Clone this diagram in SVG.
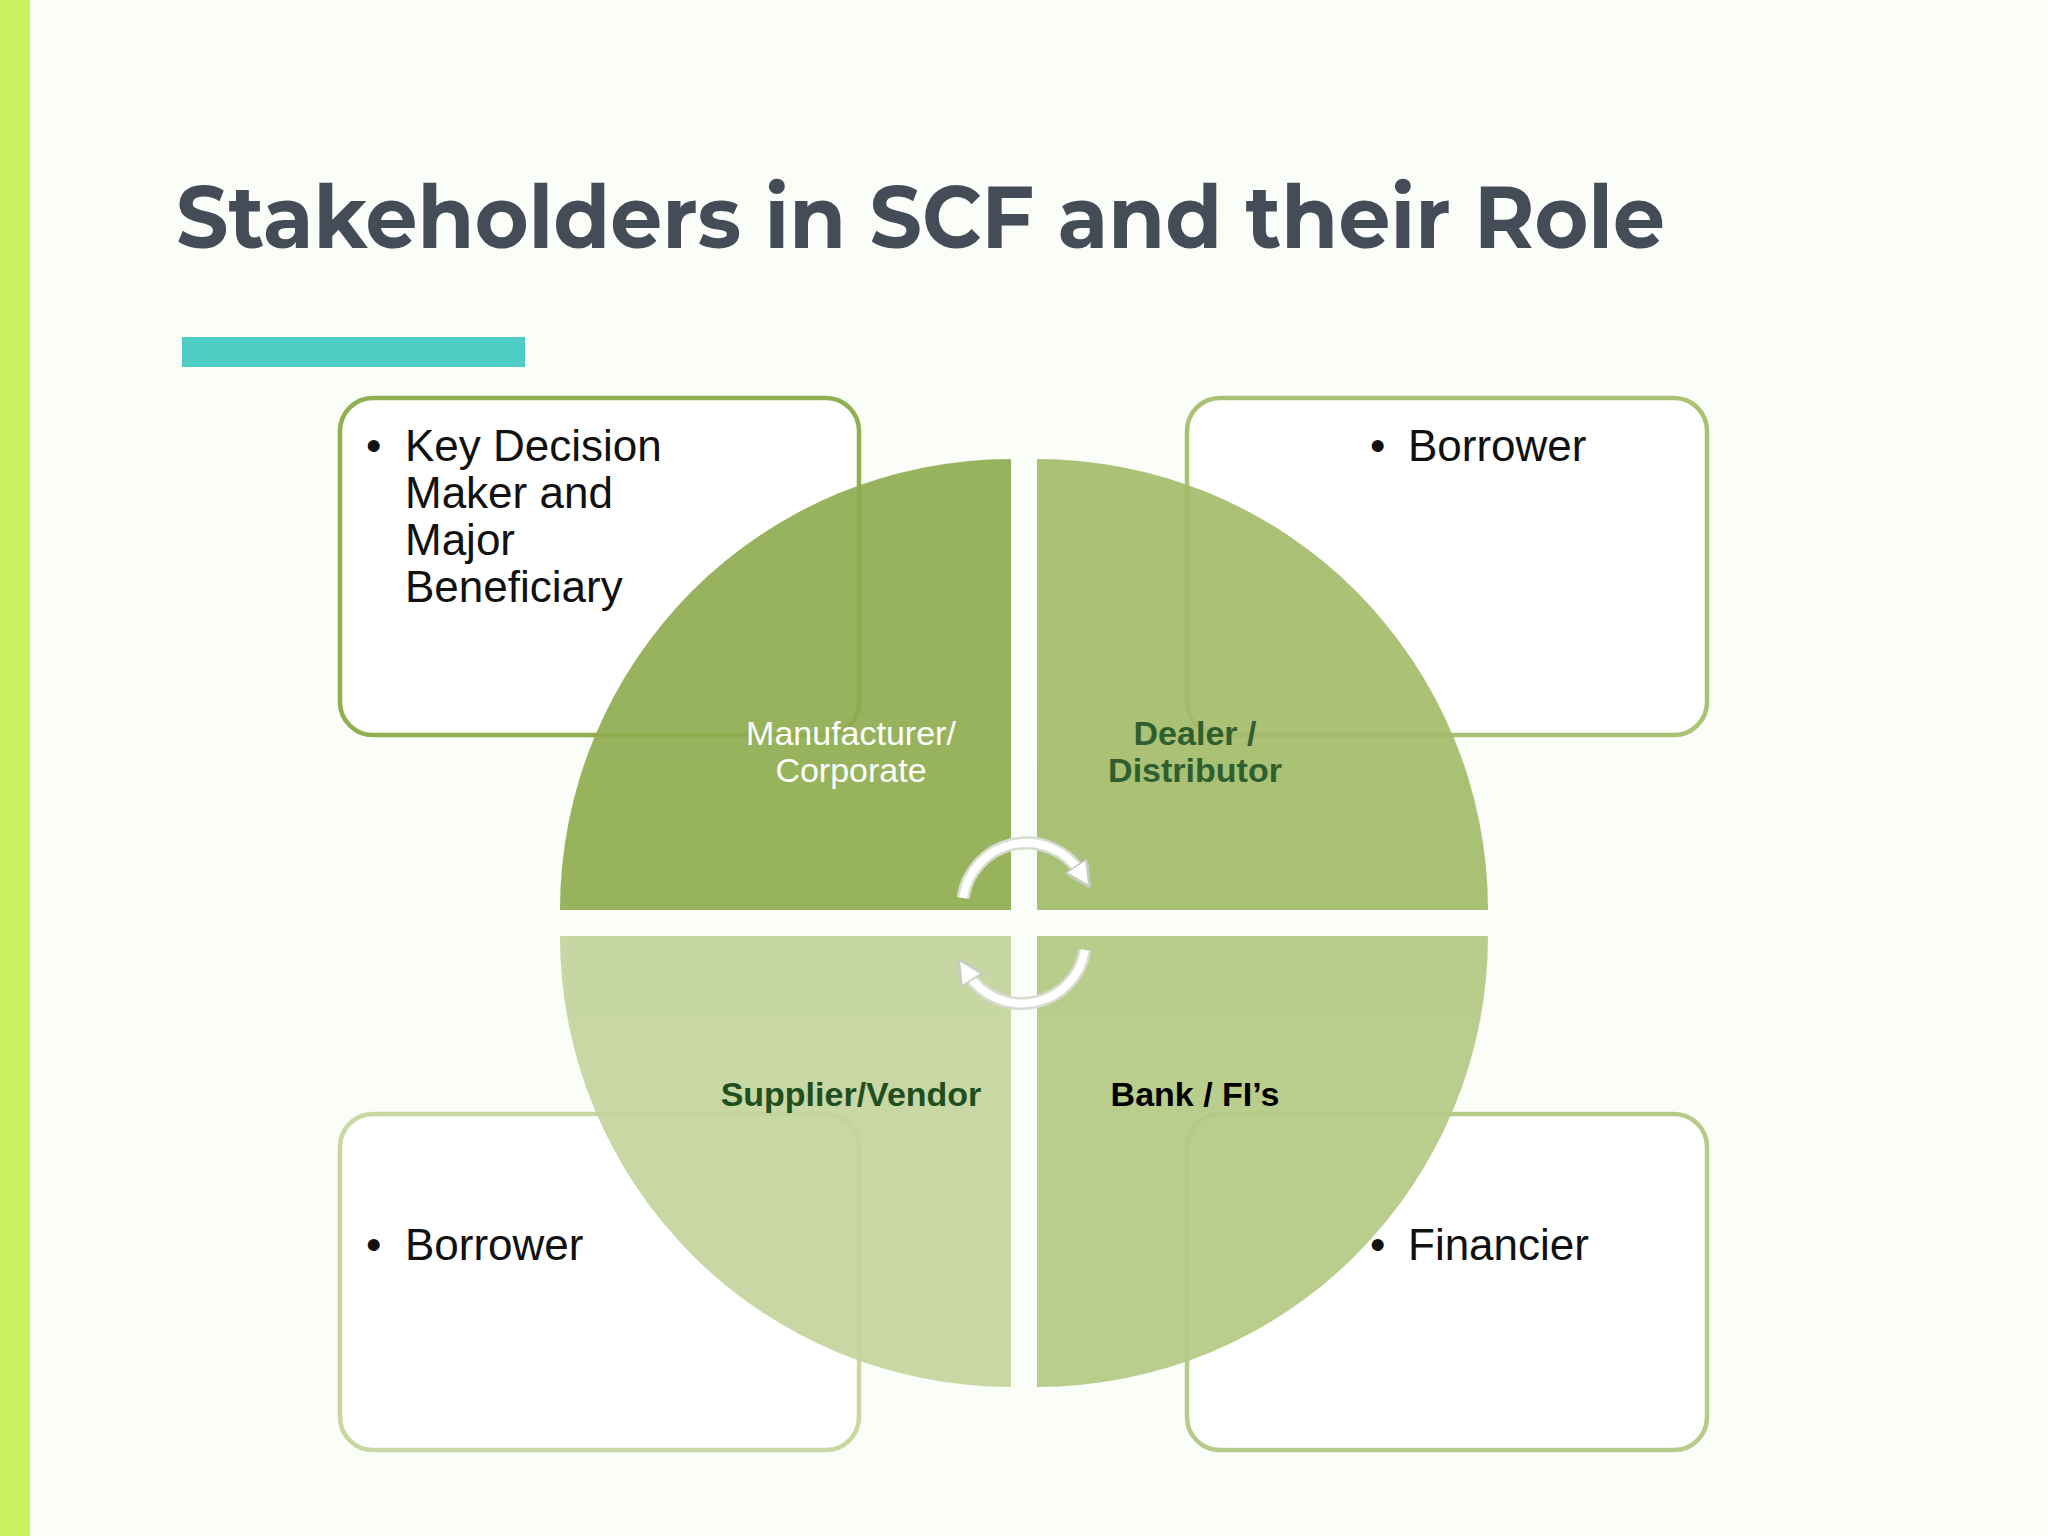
<svg xmlns="http://www.w3.org/2000/svg" width="2048" height="1536" viewBox="0 0 2048 1536">
<defs>
<style>
.box{fill:#ffffff;stroke-width:4.5}
.bt{font-family:"Liberation Sans",Arial,sans-serif;font-size:44px;fill:#111}
.lab{font-family:"Liberation Sans",Arial,sans-serif;font-size:34px;text-anchor:middle}
.arc{fill:none;stroke:#d8dcd0;stroke-width:13}
.arcw{fill:none;stroke:#ffffff;stroke-width:8}
</style>
<marker id="ah" viewBox="0 0 10 10" refX="3" refY="5" markerWidth="3.2" markerHeight="3.2" orient="auto" markerUnits="strokeWidth">
<path d="M0,0 L10,5 L0,10 Z" fill="#fff" stroke="#c8ccc0" stroke-width="1.2"/>
</marker>
</defs>
<rect width="2048" height="1536" fill="#fbfdf9"/>
<rect x="0" y="0" width="30" height="1536" fill="#c8f262"/>
<text x="176" y="248" font-family="Montserrat,'Open Sans','DejaVu Sans',sans-serif" font-weight="bold" font-size="88" fill="#444c58" textLength="1489" lengthAdjust="spacingAndGlyphs">Stakeholders in SCF and their Role</text>
<rect x="182" y="337" width="343" height="30" fill="#4ecdc4"/>
<g id="box-tl"><rect class="box" x="340" y="398" width="519" height="337" rx="33" stroke="#8fb050"/></g>
<g id="box-tr"><rect class="box" x="1187" y="398" width="520" height="337" rx="33" stroke="#a9c273"/></g>
<g id="box-bl"><rect class="box" x="340" y="1114" width="519" height="336" rx="33" stroke="#c9d8a3"/></g>
<g id="box-br"><rect class="box" x="1187" y="1114" width="520" height="336" rx="33" stroke="#b6cb88"/></g>
<g id="quadrants" opacity="0.92">
<path id="q-tl" d="M1011,910 L560,910 A451,451 0 0 1 1011,459 Z" fill="#8fad4f"/>
<path id="q-tr" d="M1037,910 L1037,459 A451,451 0 0 1 1488,910 Z" fill="#a3bc6a"/>
<path id="q-bl" d="M1011,936 L1011,1387 A451,451 0 0 1 560,936 Z" fill="#c3d49c"/>
<path id="q-br" d="M1037,936 L1488,936 A451,451 0 0 1 1037,1387 Z" fill="#b3c983"/>
</g>
<g id="box-texts">
<text class="bt" x="366" y="461">•</text>
<text class="bt"><tspan x="405" y="461">Key Decision</tspan><tspan x="405" y="508">Maker and</tspan><tspan x="405" y="555">Major</tspan><tspan x="405" y="602">Beneficiary</tspan></text>
<text class="bt" x="1370" y="461">•</text><text class="bt" x="1408" y="461">Borrower</text>
<text class="bt" x="366" y="1260">•</text><text class="bt" x="405" y="1260">Borrower</text>
<text class="bt" x="1370" y="1260">•</text><text class="bt" x="1408" y="1260">Financier</text>
</g>
<text class="lab" fill="#ffffff"><tspan x="851" y="745">Manufacturer/</tspan><tspan x="851" y="782">Corporate</tspan></text>
<text class="lab" fill="#2f5e2f" font-weight="bold"><tspan x="1195" y="745">Dealer /</tspan><tspan x="1195" y="782">Distributor</tspan></text>
<text class="lab" fill="#1f4f1f" font-weight="bold" x="851" y="1106">Supplier/Vendor</text>
<text class="lab" fill="#000" font-weight="bold" x="1195" y="1106">Bank / FI’s</text>
<g id="connectors">
<path class="arc" d="M963,898 A64,64 0 0 1 1080,872"/>
<path class="arcw" d="M963,898 A64,64 0 0 1 1080,872" marker-end="url(#ah)"/>
<path class="arc" d="M1085,950 A64,64 0 0 1 968,974"/>
<path class="arcw" d="M1085,950 A64,64 0 0 1 968,974" marker-end="url(#ah)"/>
</g>
</svg>
